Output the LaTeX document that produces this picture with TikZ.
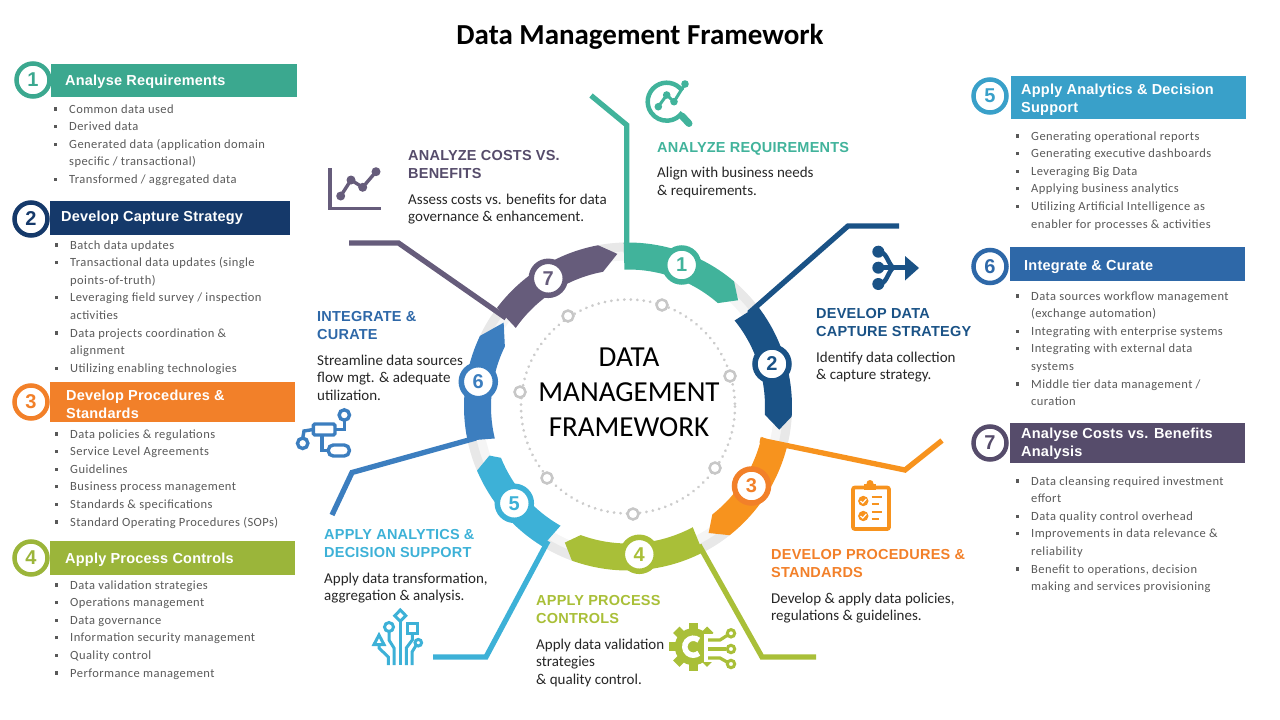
\documentclass[tikz,border=0pt]{standalone}
\usepackage{fontspec}
\setmainfont{Carlito}
\newfontfamily\headfont[LetterSpace=1.5]{Liberation Sans}
\newfontfamily\listfont[LetterSpace=3.5]{Carlito}
\usetikzlibrary{shapes, positioning, calc}
\definecolor{ringone}{HTML}{41B39B}
\definecolor{ringtwo}{HTML}{1A5286}
\definecolor{ringthree}{HTML}{F7931E}
\definecolor{ringfour}{HTML}{A9BF38}
\definecolor{ringfive}{HTML}{3DB1D7}
\definecolor{ringsix}{HTML}{3C7EBF}
\definecolor{ringseven}{HTML}{665C7B}
\definecolor{boxone}{HTML}{3BA88F}
\definecolor{boxtwo}{HTML}{15396A}
\definecolor{boxthree}{HTML}{F28029}
\definecolor{boxfour}{HTML}{9BB53A}
\definecolor{boxfive}{HTML}{39A0C9}
\definecolor{boxsix}{HTML}{2E68A8}
\definecolor{boxseven}{HTML}{564C6B}
\definecolor{listgrey}{HTML}{595959}
\definecolor{bodygrey}{HTML}{262626}
\newcommand{\bul}{\makebox[15pt][l]{\raisebox{2.5pt}{\rule{3.2pt}{3.2pt}}}}
\newcommand{\nob}{\hspace*{15pt}}
\begin{document}
\begin{tikzpicture}[x=1pt, y=-1pt]
    % Define styles
    \tikzset{
        head box/.style={rectangle, inner sep=0pt, anchor=north west},
        head text/.style={font=\headfont\fontsize{14.5}{18}\selectfont\bfseries, text=white, align=left, inner sep=0pt, anchor=west},
        num ring/.style={circle, draw=#1, fill=white, line width=4.5pt, minimum size=33pt, inner sep=0pt,
            font=\headfont\fontsize{20}{20}\selectfont\bfseries, text=#1},
        seg num/.style={circle, draw=#1, fill=white, line width=5.5pt, minimum size=34pt, inner sep=0pt,
            font=\headfont\fontsize{20}{20}\selectfont\bfseries, text=#1},
        list text/.style={font=\listfont\fontsize{12.5}{17.6}\selectfont, text=listgrey, align=left, inner sep=0pt, anchor=north west,
            execute at begin node=\strut},
        step title/.style={font=\headfont\fontsize{14.5}{18}\selectfont\bfseries, text=#1, align=left, inner sep=0pt, anchor=north west,
            execute at begin node=\strut, execute at end node=\strut},
        step body/.style={font=\fontsize{15}{17.6}\selectfont, text=bodygrey, align=left, inner sep=0pt,
            execute at begin node=\strut},
        leader/.style={line width=5.3pt, draw=#1},
        icon line/.style={line width=3.4pt, draw=#1, fill=none},
        small ring/.style={circle, draw=black!22, fill=white, line width=2.5pt, minimum size=11pt, inner sep=0pt}
    }
    \useasboundingbox (0,0) rectangle (1280,720);

    % Title
    \node[font=\fontsize{29}{32}\selectfont\bfseries, text=black] (title) at (640,36.5) {Data Management Framework};

    % Left panels
    \node[head box, fill=boxone, minimum width=246pt, minimum height=33pt] (box1) at (51,64) {};
    \node[num ring=boxone] (num1) at (33,80) {1};
    \node[head text] (txt1) at (65,82) {Analyse Requirements};
    \node[list text] (list1) at (54,104.2) {\bul Common data used\\\bul Derived data\\\bul Generated data (application domain\\\nob specific / transactional)\\\bul Transformed / aggregated data};

    \node[head box, fill=boxtwo, minimum width=240pt, minimum height=34pt] (box2) at (50,201) {};
    \node[num ring=boxtwo] (num2) at (31,219) {2};
    \node[head text] (txt2) at (61,218) {Develop Capture Strategy};
    \node[list text] (list2) at (55,240.2) {\bul Batch data updates\\\bul Transactional data updates (single\\\nob points-of-truth)\\\bul Leveraging field survey / inspection\\\nob activities\\\bul Data projects coordination \&\\\nob alignment\\\bul Utilizing enabling technologies};

    \node[head box, fill=boxthree, minimum width=245pt, minimum height=40pt] (box3) at (50,382) {};
    \node[num ring=boxthree] (num3) at (31,402) {3};
    \node[head text] (txt3) at (66,404) {Develop Procedures \&\\Standards};
    \node[list text] (list3) at (55,429.2) {\bul Data policies \& regulations\\\bul Service Level Agreements\\\bul Guidelines\\\bul Business process management\\\bul Standards \& specifications\\\bul Standard Operating Procedures (SOPs)};

    \node[head box, fill=boxfour, minimum width=245pt, minimum height=34pt] (box4) at (50,541) {};
    \node[num ring=boxfour] (num4) at (31,558) {4};
    \node[head text] (txt4) at (65,560) {Apply Process Controls};
    \node[list text] (list4) at (55,580.2) {\bul Data validation strategies\\\bul Operations management\\\bul Data governance\\\bul Information security management\\\bul Quality control\\\bul Performance management};

    % Right panels
    \node[head box, fill=boxfive, minimum width=235pt, minimum height=43pt] (box5) at (1011,76) {};
    \node[num ring=boxfive] (num5) at (990,96) {5};
    \node[head text] (txt5) at (1021,99.5) {Apply Analytics \& Decision\\Support};
    \node[list text] (list5) at (1016,131.2) {\bul Generating operational reports\\\bul Generating executive dashboards\\\bul Leveraging Big Data\\\bul Applying business analytics\\\bul Utilizing Artificial Intelligence as\\\nob enabler for processes \& activities};

    \node[head box, fill=boxsix, minimum width=235pt, minimum height=34pt] (box6) at (1010,247) {};
    \node[num ring=boxsix] (num6) at (990,266.5) {6};
    \node[head text] (txt6) at (1024,266.5) {Integrate \& Curate};
    \node[list text] (list6) at (1016,291.2) {\bul Data sources workflow management\\\nob (exchange automation)\\\bul Integrating with enterprise systems\\\bul Integrating with external data\\\nob systems\\\bul Middle tier data management /\\\nob curation};

    \node[head box, fill=boxseven, minimum width=235pt, minimum height=40pt] (box7) at (1010,423) {};
    \node[num ring=boxseven] (num7) at (990,443) {7};
    \node[head text] (txt7) at (1021,444) {Analyse Costs vs. Benefits\\Analysis};
    \node[list text] (list7) at (1016,476.2) {\bul Data cleansing required investment\\\nob effort\\\bul Data quality control overhead\\\bul Improvements in data relevance \&\\\nob reliability\\\bul Benefit to operations, decision\\\nob making and services provisioning};

    % Centre ring
    \begin{scope}[shift={(628,406.5)}]
        % soft shade in the gaps
        \foreach \gs/\ge in {-50/-37, 3/15, 51/63, 109/122, 156/169, 205/218, 259/269} {
            \fill[black!4] (\gs:164) arc[start angle=\gs, end angle=\ge, radius=164] -- (\ge:146) arc[start angle=\ge, end angle=\gs, radius=146] -- cycle;
            \fill[black!9] (\gs:164) arc[start angle=\gs, end angle=\ge, radius=164] -- (\ge:155) arc[start angle=\ge, end angle=\gs, radius=155] -- cycle;
        }

        \draw[black!20, line width=3pt, line cap=round, dash pattern=on 0.1pt off 6.4pt] (0,0) circle[radius=107];

        \fill[ringone] (-91.5:164) arc[start angle=-91.5, end angle=-49.7, radius=164] -- (-44:153) -- (-49:137) arc[start angle=-49, end angle=-91.5, radius=137] -- cycle;
        \fill[ringtwo] (-37.8:164) arc[start angle=-37.8, end angle=3.5, radius=164] -- (8.7:153) -- (3.4:137) arc[start angle=3.4, end angle=-38.9, radius=137] -- cycle;
        \fill[ringthree] (14.5:164) arc[start angle=14.5, end angle=51.7, radius=164] -- (57.5:150) -- (52:137) arc[start angle=52, end angle=12.8, radius=137] -- cycle;
        \fill[ringfour] (62.8:164) arc[start angle=62.8, end angle=110, radius=164] -- (114.9:150) -- (110.2:137) arc[start angle=110.2, end angle=61.8, radius=137] -- cycle;
        \fill[ringfive] (121.5:164) arc[start angle=121.5, end angle=157, radius=164] -- (160.5:147) -- (158:137) arc[start angle=158, end angle=119.5, radius=137] -- cycle;
        \fill[ringsix] (168:164) arc[start angle=168, end angle=205.5, radius=164] -- (214:150) -- (206:137) arc[start angle=206, end angle=166.5, radius=137] -- cycle;
        \fill[ringseven] (217:164) arc[start angle=217, end angle=259.5, radius=164] -- (266:153) -- (259.5:137) arc[start angle=259.5, end angle=215, radius=137] -- cycle;
    \end{scope}

    % Small circles on the dotted ring
    \node[small ring] (dot1) at (662,305) {};
    \node[small ring] (dot2) at (730,376) {};
    \node[small ring] (dot3) at (715,468) {};
    \node[small ring] (dot4) at (633,514) {};
    \node[small ring] (dot5) at (547,478) {};
    \node[small ring] (dot6) at (520,392) {};
    \node[small ring] (dot7) at (568,316) {};

    % Centre label
    \node[font=\fontsize{29}{35}\selectfont, text=black, align=center] (centre) at (629,392) {DATA\\MANAGEMENT\\FRAMEWORK};

    % Leader lines
    \coordinate (lead1a) at (626.7,245);
    \coordinate (lead1b) at (626.7,125);
    \coordinate (lead1c) at (591,95.5);
    \draw[leader=ringone] (lead1a) -- (lead1b) -- (lead1c);
    \coordinate (lead2a) at (749,313);
    \coordinate (lead2b) at (848,226);
    \coordinate (lead2c) at (899,226);
    \draw[leader=ringtwo] (lead2a) -- (lead2b) -- (lead2c);
    \coordinate (lead3a) at (760,440);
    \coordinate (lead3b) at (905,470);
    \coordinate (lead3c) at (942,440.5);
    \draw[leader=ringthree] (lead3a) -- (lead3b) -- (lead3c);
    \coordinate (lead4a) at (699,545);
    \coordinate (lead4b) at (762,657);
    \coordinate (lead4c) at (816,657);
    \draw[leader=ringfour] (lead4a) -- (lead4b) -- (lead4c);
    \coordinate (lead5a) at (548,541);
    \coordinate (lead5b) at (486,657);
    \coordinate (lead5c) at (433,657);
    \draw[leader=ringfive] (lead5a) -- (lead5b) -- (lead5c);
    \coordinate (lead6a) at (476,438);
    \coordinate (lead6b) at (352,472.5);
    \coordinate (lead6c) at (332,515);
    \draw[leader=ringsix] (lead6a) -- (lead6b) -- (lead6c);
    \coordinate (lead7a) at (506,318);
    \coordinate (lead7b) at (398.5,243);
    \coordinate (lead7c) at (349,243);
    \draw[leader=ringseven] (lead7a) -- (lead7b) -- (lead7c);

    % Numbers on the ring
    \node[seg num=ringone] (seg1) at (681.7,265) {1};
    \node[seg num=ringtwo] (seg2) at (772,364) {2};
    \node[seg num=boxthree] (seg3) at (751.5,486) {3};
    \node[seg num=ringfour] (seg4) at (639.3,554.3) {4};
    \node[seg num=ringfive] (seg5) at (514.3,503.3) {5};
    \node[seg num=ringsix] (seg6) at (478.3,381.7) {6};
    \node[seg num=ringseven] (seg7) at (548.3,278.3) {7};

    % Step texts
    \node[step title=ringone] (title1) at (657,139.4) {ANALYZE REQUIREMENTS};
    \node[step body, below=9.3pt of title1.south west, anchor=north west] (body1) {Align with business needs\\\& requirements.};
    \node[step title=ringtwo] (title2) at (816,308.4) {DEVELOP DATA\\CAPTURE STRATEGY};
    \node[step body, below=9.3pt of title2.south west, anchor=north west] (body2) {Identify data collection\\\& capture strategy.};
    \node[step title=boxthree] (title3) at (771,549.4) {DEVELOP PROCEDURES \&\\STANDARDS};
    \node[step body, below=9.3pt of title3.south west, anchor=north west] (body3) {Develop \& apply data policies,\\regulations \& guidelines.};
    \node[step title=ringfour] (title4) at (536,595.4) {APPLY PROCESS\\CONTROLS};
    \node[step body, below=9.3pt of title4.south west, anchor=north west] (body4) {Apply data validation\\strategies\\\& quality control.};
    \node[step title=ringfive] (title5) at (324,529.4) {APPLY ANALYTICS \&\\DECISION SUPPORT};
    \node[step body, below=9.3pt of title5.south west, anchor=north west] (body5) {Apply data transformation,\\aggregation \& analysis.};
    \node[step title=boxsix] (title6) at (317,311.4) {INTEGRATE \&\\CURATE};
    \node[step body, below=9.3pt of title6.south west, anchor=north west] (body6) {Streamline data sources\\flow mgt. \& adequate\\utilization.};
    \node[step title=boxseven] (title7) at (408,150.4) {ANALYZE COSTS VS.\\BENEFITS};
    \node[step body, below=9.3pt of title7.south west, anchor=north west] (body7) {Assess costs vs. benefits for data\\governance \& enhancement.};

    % Icon 1 - magnifier
    \draw[ringone, line width=4.5pt] (666.7,101.7) ++(-35:19) arc[start angle=-35, end angle=-325, radius=19];
    \draw[ringone, line width=7pt, line cap=round] (682,116) -- (689,123.5);
    \draw[ringone, line width=3pt] (658.3,106.7) -- (666.7,95) -- (674,101.7) -- (685,84);
    \foreach \px/\py in {658.3/106.7, 666.7/95, 674/101.7, 685/84}
        \fill[ringone] (\px,\py) circle[radius=3.8];

    % Icon 2 - branching arrow
    \foreach \py in {251.7, 267.7, 284}
        \fill[ringtwo] (878.3,\py) circle[radius=6];
    \draw[ringtwo, line width=4.5pt] (878.3,251.7) to[out=0, in=135] (893,267.7);
    \draw[ringtwo, line width=4.5pt] (878.3,284) to[out=0, in=225] (893,267.7);
    \draw[ringtwo, line width=4.5pt] (878.3,267.7) -- (907,267.7);
    \fill[ringtwo] (905,256) -- (919,268) -- (905,280.5) -- cycle;

    % Icon 3 - clipboard
    \draw[ringthree, line width=3.8pt, rounded corners=2pt] (853,487.5) rectangle (889,529);
    \fill[ringthree] (864,484) rectangle (876,490);
    \fill[ringthree] (870,483.5) circle[radius=3.5];
    \foreach \py in {501, 516} {
        \fill[ringthree] (863.3,\py) circle[radius=5.2];
        \draw[white, line width=1.2pt] (860.5,\py) -- (862.8,\py+2) -- (866.3,\py-2);
        \draw[ringthree, line width=2.6pt] (871.7,\py-4) -- (882,\py-4);
        \draw[ringthree, line width=2.6pt] (871.7,\py+3) -- (878.5,\py+3);
    }

    % Icon 4 - gear with lines
    \fill[ringfour] (693.3,646.7) circle[radius=18.5];
    \foreach \a in {0,45,...,315}
        \fill[ringfour, shift={(693.3,646.7)}, rotate=\a] (-4.5,-24) rectangle (4.5,-15);
    \draw[white, line width=5.5pt] (693.3,646.7) ++(-50:8.5) arc[start angle=-50, end angle=-310, radius=8.5];
    \fill[white] (704,634) rectangle (724,662);
    \draw[ringfour, line width=3.2pt] (708,640) -- (720,640) -- (727,635.5);
    \draw[ringfour, line width=3.2pt] (708,649) -- (726,649);
    \draw[ringfour, line width=3.2pt] (708,658) -- (720,658) -- (727,662);
    \foreach \py in {633.3, 649, 664}
        \draw[ringfour, line width=3pt] (731,\py) circle[radius=3.7];

    % Icon 5 - circuit tree
    \draw[icon line=ringfive, line width=3pt] (400.3,610) -- (405.8,615.7) -- (400.3,621.2) -- (394.8,615.7) -- cycle;
    \draw[icon line=ringfive, line width=3pt] (389,627) circle[radius=4.5];
    \draw[icon line=ringfive, line width=3pt] (407.3,623.3) rectangle (417.3,633.3);
    \draw[icon line=ringfive, line width=3pt] (379,635) -- (384,644.5) -- (374,644.5) -- cycle;
    \draw[icon line=ringfive, line width=3pt] (418.3,642.7) circle[radius=3.3];
    \draw[icon line=ringfive, line width=3pt] (389,631.5) -- (389,640) -- (394,648) -- (394,665);
    \draw[icon line=ringfive, line width=3pt] (400.3,621) -- (400.3,665);
    \draw[icon line=ringfive, line width=3pt] (412.3,633.3) -- (412.3,640) -- (406.3,648) -- (406.3,665);
    \draw[icon line=ringfive, line width=3pt] (379,644.5) -- (379,648) -- (388.3,657) -- (388.3,665);
    \draw[icon line=ringfive, line width=3pt] (416,645.5) -- (412,652) -- (412,665);

    % Icon 6 - flow chart
    \draw[icon line=ringsix] (344.3,415) circle[radius=5.2];
    \draw[icon line=ringsix] (302.7,443.3) circle[radius=5.2];
    \draw[icon line=ringsix, rounded corners=1.5pt] (313.3,424) rectangle (335,435);
    \draw[icon line=ringsix, rounded corners=5pt] (328.3,445) rectangle (349.3,456);
    \draw[icon line=ringsix] (344.3,420) -- (344.3,429.5) -- (335,429.5);
    \draw[icon line=ringsix] (313.3,429.5) -- (304,431) -- (302.7,438.3);
    \draw[icon line=ringsix] (322,435) -- (322,450.5) -- (328.3,450.5);

    % Icon 7 - line chart
    \draw[icon line=ringseven] (330,168.3) -- (330,208.3) -- (381,208.3);
    \draw[icon line=ringseven] (340.7,196) -- (351,180) -- (362.7,187.3) -- (376,171.7);
    \foreach \px/\py in {340.7/196, 351/180, 362.7/187.3, 376/171.7}
        \fill[ringseven] (\px,\py) circle[radius=4.5];
\end{tikzpicture}
\end{document}
